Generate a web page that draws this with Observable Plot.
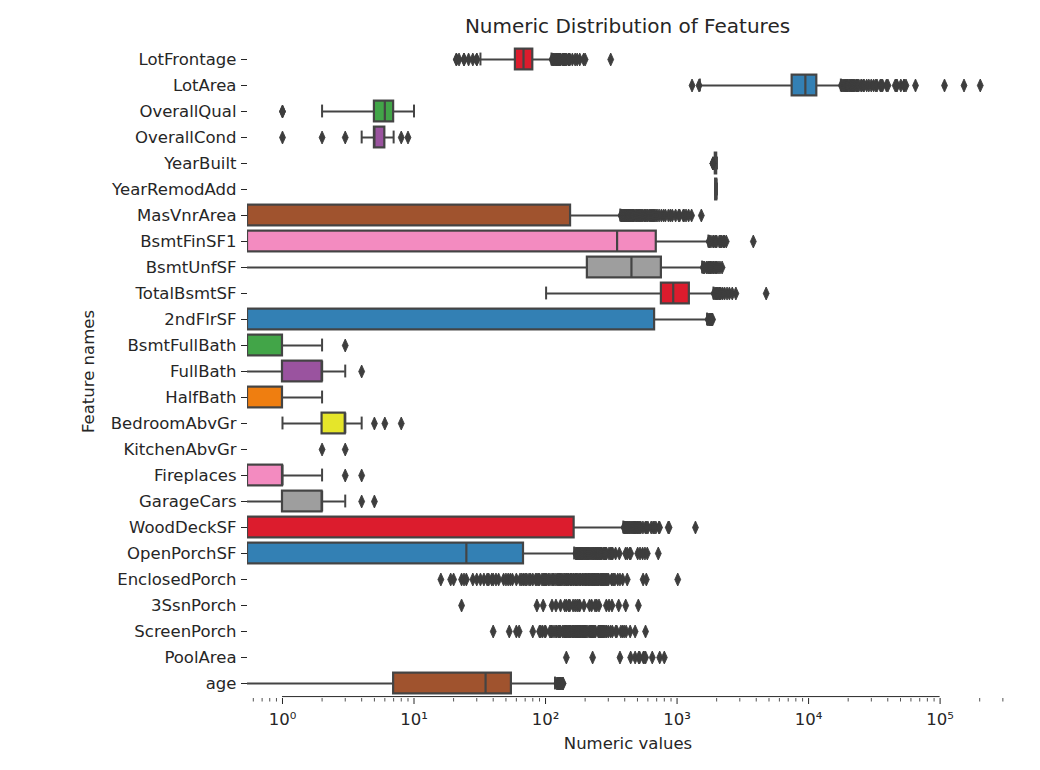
<!DOCTYPE html>
<html>
<head>
<meta charset="utf-8">
<script src="https://cdn.jsdelivr.net/npm/d3@7"></script>
<script src="https://cdn.jsdelivr.net/npm/@observablehq/plot@0.6"></script>
<style>
  html, body { margin: 0; padding: 0; background: white; }
  #title { box-sizing: border-box; width: 1040px; height: 44px; padding: 15px 32px 0 247px; text-align: center;
           font-family: "DejaVu Sans", sans-serif; font-size: 20px; line-height: 22px; color: #262626; }
  #chart svg { display: block; }
</style>
</head>
<body>
<div id="title">Numeric Distribution of Features</div>
<div id="chart"></div>
<script>
const features = ["LotFrontage","LotArea","OverallQual","OverallCond","YearBuilt","YearRemodAdd","MasVnrArea","BsmtFinSF1","BsmtUnfSF","TotalBsmtSF","2ndFlrSF","BsmtFullBath","FullBath","HalfBath","BedroomAbvGr","KitchenAbvGr","Fireplaces","GarageCars","WoodDeckSF","OpenPorchSF","EnclosedPorch","3SsnPorch","ScreenPorch","PoolArea","age"];
const q1     = [59, 7500, 5, 5, 1953, 1965, 0, 0, 208, 760, 0, 0, 1, 0, 2, 1, 0, 1, 0, 0, 0, 0, 0, 0, 7];
const median = [68, 9450, 6, 5, 1973, 1993, 0, 350, 450, 935, 0, 0, 2, 0, 3, 1, 1, 2, 0, 25, 0, 0, 0, 0, 35];
const q3     = [80, 11550, 7, 6, 2001, 2004, 155, 695, 760, 1240, 675, 1, 2, 1, 3, 1, 1, 2, 165, 68, 0, 0, 0, 0, 55];
const whislo = [32, 1491, 2, 4, 1880, 1950, 0, 0, 0, 101, 0, 0, 0, 0, 1, 1, 0, 0, 0, 0, 0, 0, 0, 0, 0];
const whishi = [111, 17600, 10, 7, 2010, 2010, 370, 1730, 1550, 1890, 1690, 2, 3, 2, 4, 1, 2, 3, 390, 165, 0, 0, 0, 0, 118];
const outliers = [
  [21,21,22,24,24,26,28,30,30,112,114,115,116,118,120,121,122,124,125,128,129,130,134,137,138,140,141,144,149,150,152,153,160,168,174,182,195,200,313],
  [1300,1470,17750,18000,18450,18800,19140,19378,19690,20000,20544,20896,21286,21384,21750,21930,22420,22950,23257,23595,24090,25095,25339,26142,26400,27650,28698,29959,31220,32463,33120,35133,35760,36500,39104,40094,45600,46589,47007,50271,53107,53227,55000,65000,108000,152000,202000],
  [1,1],
  [1,2,3,8,9],
  [1872,1875,1879],
  [],
  [375,380,385,390,396,400,405,410,415,420,425,430,435,438,443,450,456,460,466,470,480,490,500,510,520,530,540,550,564,576,590,600,616,630,640,650,660,672,690,705,730,760,790,816,860,890,921,975,1031,1047,1115,1129,1170,1224,1290,1530],
  [1750,1767,1810,1880,1904,1960,2000,2096,2146,2188,2260,2288,2366,3800],
  [1580,1620,1680,1720,1750,1780,1800,1840,1880,1910,1960,2000,2050,2120,2200],
  [1910,1960,2000,2030,2080,2110,2150,2220,2300,2400,2500,2630,2800,4760],
  [1720,1760,1796,1818,1836,1862],
  [3],
  [4],
  [],
  [5,6,8],
  [2,3],
  [3,4],
  [4,5],
  [395,400,404,410,416,420,428,435,440,450,460,468,474,480,486,495,500,510,519,530,550,574,586,600,636,657,670,690,728,736,857,870,1380],
  [170,172,174,176,178,180,182,184,186,188,190,192,195,198,200,203,205,208,210,213,216,220,224,228,231,234,238,240,244,247,250,252,258,260,264,267,274,279,282,285,287,291,304,312,319,324,341,364,406,418,436,444,502,523,547,570,594,720],
  [16,19,20,23,24,25,28,30,32,34,36,37,39,40,42,44,48,50,52,54,56,60,64,66,68,70,72,75,77,80,84,86,88,90,94,96,98,100,102,105,108,112,114,116,120,123,126,128,130,133,136,140,143,145,148,150,154,156,158,162,164,168,170,172,176,180,184,185,190,192,196,200,202,205,210,212,215,220,224,228,230,234,236,240,244,248,252,254,260,264,268,272,275,280,286,291,294,301,318,320,330,337,354,368,386,418,552,584,1012],
  [23,86,96,112,120,130,140,144,150,153,162,168,174,180,182,196,216,224,238,245,255,290,304,320,360,407,508],
  [40,53,60,63,80,90,92,95,99,100,108,110,111,112,116,120,122,126,128,130,135,138,140,142,143,144,147,150,152,154,155,156,160,161,163,165,168,170,171,174,175,176,178,180,182,184,185,189,190,192,195,197,198,200,201,204,210,216,220,222,224,225,227,230,233,234,240,252,255,256,259,260,263,265,266,271,273,276,280,288,291,300,312,322,342,348,374,385,396,410,440,480,576],
  [144,228,368,444,480,512,519,555,561,576,648,738,800],
  [122,124,126,128,129,130,132,135,136]
];
const palette = ["#dc1c2d","#3380b4","#42a548","#9a539f","#ef7e10","#e5e52a","#a0532e","#f38bc0","#9e9e9e"];
const majorTicks = [1, 10, 100, 1000, 10000, 100000];
const majorLabels = ["10⁰","10¹","10²","10³","10⁴","10⁵"];
const minorTicks = [0.6,0.7,0.8,0.9,2,3,4,5,6,7,8,9,20,30,40,50,60,70,80,90,200,300,400,500,600,700,800,900,2000,3000,4000,5000,6000,7000,8000,9000,20000,30000,40000,50000,60000,70000,80000,90000,200000,300000];
const xLabel = "Numeric values";
const yLabel = "Feature names";

const xmin = Math.pow(10, -0.266), xmax = Math.pow(10, 5.52);
const cx = v => Math.max(v, xmin);
const rows = features.map((f, i) => ({f, q1: q1[i], med: median[i], q3: q3[i], lo: whislo[i], hi: whishi[i], color: palette[i % palette.length]}));
const pts = features.flatMap((f, i) => outliers[i].map(v => ({f, v})));
const line = "#444444";
const H = 726, MB = 72;
const band = (H - MB) / features.length;
const boxInset = band * 0.1;
const capInset = (band - 13) / 2;
const thinDiamond = {
  draw(ctx, size) {
    const r = Math.sqrt(size / Math.PI);
    ctx.moveTo(0, -r); ctx.lineTo(0.45 * r, 0); ctx.lineTo(0, r); ctx.lineTo(-0.45 * r, 0); ctx.closePath();
  }
};

const chart = Plot.plot({
  width: 1040, height: H,
  marginLeft: 247, marginRight: 32, marginTop: 0, marginBottom: MB,
  style: {fontFamily: "DejaVu Sans, sans-serif", fontSize: "16.5px", color: "#262626", background: "white"},
  x: {type: "log", domain: [xmin, xmax]},
  y: {type: "band", domain: features, padding: 0},
  marks: [
    // whiskers
    Plot.ruleY(rows.filter(d => d.hi > d.q3), {y: "f", x1: d => cx(d.q3), x2: d => cx(d.hi), stroke: line, strokeWidth: 2}),
    Plot.ruleY(rows.filter(d => d.q1 > d.lo), {y: "f", x1: d => cx(d.lo), x2: d => cx(d.q1), stroke: line, strokeWidth: 2}),
    // caps
    Plot.tickX(rows.filter(d => d.hi > 0 && d.hi > d.q3), {y: "f", x: "hi", stroke: line, strokeWidth: 2, insetTop: capInset, insetBottom: capInset}),
    Plot.tickX(rows.filter(d => d.lo > 0 && d.lo < d.q1), {y: "f", x: "lo", stroke: line, strokeWidth: 2, insetTop: capInset, insetBottom: capInset}),
    // boxes
    Plot.barX(rows.filter(d => d.q3 > 0), {y: "f", x1: d => cx(d.q1), x2: "q3", fill: "color", stroke: line, strokeWidth: 2.2, insetTop: boxInset, insetBottom: boxInset, clip: true}),
    // medians
    Plot.tickX(rows.filter(d => d.med > 0 && d.q3 > d.q1), {y: "f", x: "med", stroke: line, strokeWidth: 2.2, insetTop: boxInset, insetBottom: boxInset}),
    // outliers
    Plot.dot(pts, {x: "v", y: "f", symbol: thinDiamond, r: 6.5, fill: "#3d3d3d", stroke: "#3d3d3d", strokeWidth: 0.9}),
    // axes
    Plot.axisY({tickSize: 6, tickPadding: 5, label: null, stroke: "#262626"}),
    Plot.text([yLabel], {frameAnchor: "left", dx: -159, rotate: -90, textAnchor: "middle", lineAnchor: "middle", fontSize: 16.5, fill: "#262626"}),
    Plot.axisX({ticks: minorTicks, tickSize: 3.5, tickFormat: () => "", label: null, strokeWidth: 0.8}),
    Plot.axisX({ticks: majorTicks, tickSize: 6, tickPadding: 9, tickFormat: d => majorLabels[majorTicks.indexOf(d)], label: null, strokeWidth: 1}),
    Plot.text([xLabel], {frameAnchor: "bottom", dy: 50, fontSize: 16.5, fill: "#262626"}),
    Plot.ruleY([features[features.length - 1]], {y: d => d, x1: majorTicks[0], x2: majorTicks[majorTicks.length - 1], dy: band / 2, stroke: "#262626", strokeWidth: 1})
  ]
});
document.getElementById("chart").appendChild(chart);
</script>
</body>
</html>
